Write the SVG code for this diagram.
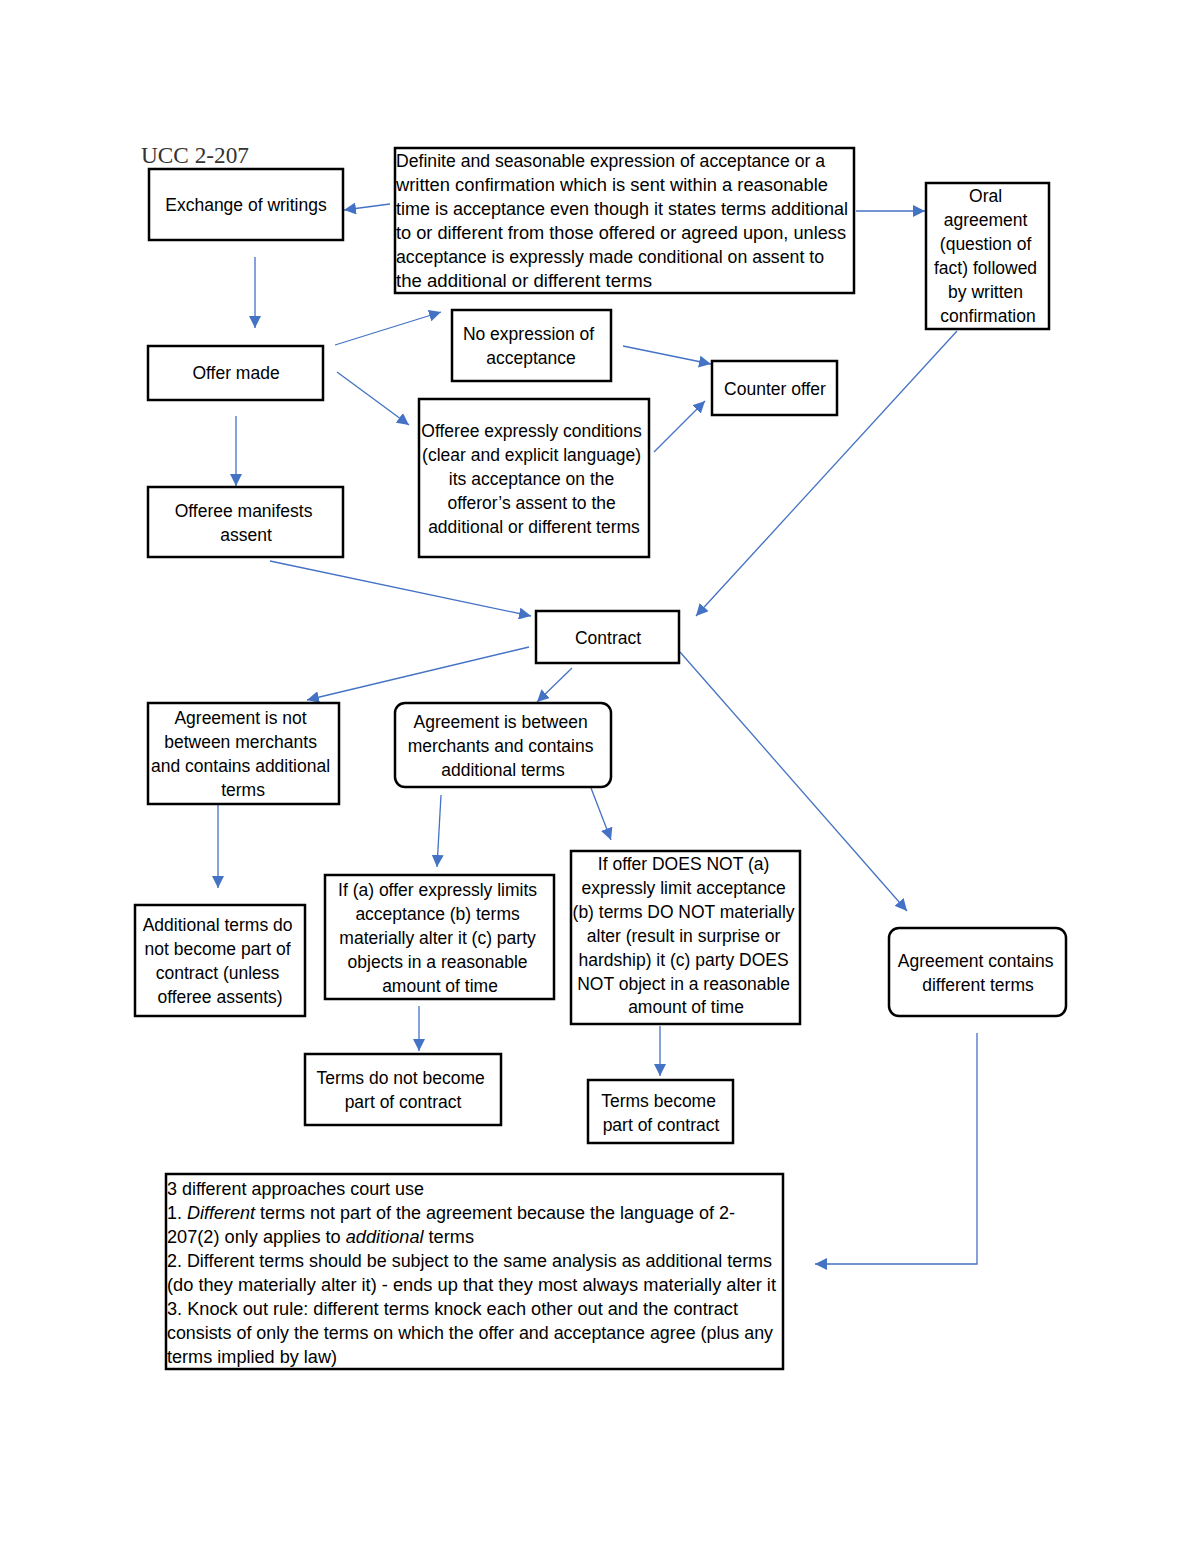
<svg xmlns="http://www.w3.org/2000/svg" width="1200" height="1553" viewBox="0 0 1200 1553">
<style>
.box{fill:#fff;stroke:#000;stroke-width:2.5}
.t{font-family:"Liberation Sans",Arial,sans-serif;font-size:17.5px;fill:#000}
.c{text-anchor:middle}
.ln{fill:none;stroke:#4472C4;stroke-width:1.3;marker-end:url(#ah)}
</style>
<defs>
<marker id="ah" markerUnits="userSpaceOnUse" markerWidth="14" markerHeight="12" refX="12" refY="6" orient="auto">
<path d="M0,0 L12,6 L0,12 Z" fill="#4472C4"/>
</marker>
</defs>
<rect width="1200" height="1553" fill="#fff"/>
<text x="141" y="163" font-family="Liberation Serif,serif" font-size="23" fill="#333" textLength="108" lengthAdjust="spacingAndGlyphs">UCC 2-207</text>

<g id="connectors">
<line class="ln" x1="390" y1="204" x2="344" y2="210"/>
<line class="ln" x1="856" y1="211" x2="925" y2="211"/>
<line class="ln" x1="255" y1="257" x2="255" y2="328"/>
<line class="ln" x1="335" y1="345" x2="441" y2="312"/>
<line class="ln" x1="337" y1="372" x2="409" y2="425"/>
<line class="ln" x1="623" y1="346" x2="711" y2="364"/>
<line class="ln" x1="654" y1="452" x2="705" y2="401"/>
<line class="ln" x1="236" y1="416" x2="236" y2="486"/>
<line class="ln" x1="270" y1="561" x2="531" y2="616"/>
<line class="ln" x1="957" y1="331" x2="696" y2="616"/>
<line class="ln" x1="529" y1="647" x2="307" y2="700"/>
<line class="ln" x1="572" y1="668" x2="537" y2="702"/>
<line class="ln" x1="680" y1="652" x2="907" y2="911"/>
<line class="ln" x1="218" y1="803" x2="218" y2="888"/>
<line class="ln" x1="441" y1="795" x2="437" y2="867"/>
<line class="ln" x1="591" y1="788" x2="611" y2="840"/>
<line class="ln" x1="419" y1="1006" x2="419" y2="1051"/>
<line class="ln" x1="660" y1="1026" x2="660" y2="1076"/>
<polyline class="ln" points="977,1033 977,1264 815,1264"/>
</g>

<g id="exchange">
<rect class="box" x="149" y="169" width="194" height="71"/>
<text class="t c" x="246" y="211">Exchange of writings</text>
</g>

<g id="definite">
<rect class="box" x="395" y="148" width="459" height="145"/>
<text class="t">
<tspan x="396" y="167" textLength="429" lengthAdjust="spacingAndGlyphs">Definite and seasonable expression of acceptance or a</tspan>
<tspan x="396" y="191" textLength="432" lengthAdjust="spacingAndGlyphs">written confirmation which is sent within a reasonable</tspan>
<tspan x="396" y="215" textLength="452" lengthAdjust="spacingAndGlyphs">time is acceptance even though it states terms additional</tspan>
<tspan x="396" y="239" textLength="450" lengthAdjust="spacingAndGlyphs">to or different from those offered or agreed upon, unless</tspan>
<tspan x="396" y="263" textLength="428" lengthAdjust="spacingAndGlyphs">acceptance is expressly made conditional on assent to</tspan>
<tspan x="396" y="287" textLength="256" lengthAdjust="spacingAndGlyphs">the additional or different terms</tspan>
</text>
</g>

<g id="oral">
<rect class="box" x="926" y="183" width="123" height="146"/>
<text class="t c">
<tspan x="988" y="202">Oral</tspan>
<tspan x="988" y="226">agreement</tspan>
<tspan x="988" y="250">(question of</tspan>
<tspan x="988" y="274">fact) followed</tspan>
<tspan x="988" y="298">by written</tspan>
<tspan x="988" y="322">confirmation</tspan>
</text>
</g>

<g id="offer">
<rect class="box" x="148" y="346" width="175" height="54"/>
<text class="t c" x="236" y="379">Offer made</text>
</g>

<g id="noexpr">
<rect class="box" x="452" y="310" width="159" height="71"/>
<text class="t c">
<tspan x="531" y="340">No expression of</tspan>
<tspan x="531" y="364">acceptance</tspan>
</text>
</g>

<g id="counter">
<rect class="box" x="712" y="361" width="125" height="54"/>
<text class="t c" x="775" y="395">Counter offer</text>
</g>

<g id="conditions">
<rect class="box" x="419" y="399" width="230" height="158"/>
<text class="t c">
<tspan x="534" y="437">Offeree expressly conditions</tspan>
<tspan x="534" y="461">(clear and explicit language)</tspan>
<tspan x="534" y="485">its acceptance on the</tspan>
<tspan x="534" y="509">offeror’s assent to the</tspan>
<tspan x="534" y="533">additional or different terms</tspan>
</text>
</g>

<g id="manifests">
<rect class="box" x="148" y="487" width="195" height="70"/>
<text class="t c">
<tspan x="246" y="517">Offeree manifests</tspan>
<tspan x="246" y="541">assent</tspan>
</text>
</g>

<g id="contract">
<rect class="box" x="536" y="611" width="143" height="52"/>
<text class="t c" x="608" y="644">Contract</text>
</g>

<g id="notmerchants">
<rect class="box" x="148" y="703" width="191" height="101"/>
<text class="t c">
<tspan x="243" y="724">Agreement is not</tspan>
<tspan x="243" y="748">between merchants</tspan>
<tspan x="243" y="772">and contains additional</tspan>
<tspan x="243" y="796">terms</tspan>
</text>
</g>

<g id="merchants">
<rect class="box" x="395" y="703" width="216" height="84" rx="10"/>
<text class="t c">
<tspan x="503" y="728">Agreement is between</tspan>
<tspan x="503" y="752">merchants and contains</tspan>
<tspan x="503" y="776">additional terms</tspan>
</text>
</g>

<g id="addnot">
<rect class="box" x="135" y="905" width="170" height="111"/>
<text class="t c">
<tspan x="220" y="931">Additional terms do</tspan>
<tspan x="220" y="955">not become part of</tspan>
<tspan x="220" y="979">contract (unless</tspan>
<tspan x="220" y="1003">offeree assents)</tspan>
</text>
</g>

<g id="limits">
<rect class="box" x="325" y="875" width="229" height="124"/>
<text class="t c">
<tspan x="440" y="896">If (a) offer expressly limits</tspan>
<tspan x="440" y="920">acceptance (b) terms</tspan>
<tspan x="440" y="944">materially alter it (c) party</tspan>
<tspan x="440" y="968">objects in a reasonable</tspan>
<tspan x="440" y="992">amount of time</tspan>
</text>
</g>

<g id="doesnot">
<rect class="box" x="571" y="851" width="229" height="173"/>
<text class="t c">
<tspan x="686" y="870">If offer DOES NOT (a)</tspan>
<tspan x="686" y="894">expressly limit acceptance</tspan>
<tspan x="686" y="918" textLength="222" lengthAdjust="spacingAndGlyphs">(b) terms DO NOT materially</tspan>
<tspan x="686" y="942">alter (result in surprise or</tspan>
<tspan x="686" y="966">hardship) it (c) party DOES</tspan>
<tspan x="686" y="990">NOT object in a reasonable</tspan>
<tspan x="686" y="1013">amount of time</tspan>
</text>
</g>

<g id="different">
<rect class="box" x="889" y="928" width="177" height="88" rx="10"/>
<text class="t c">
<tspan x="978" y="967">Agreement contains</tspan>
<tspan x="978" y="991">different terms</tspan>
</text>
</g>

<g id="termsnot">
<rect class="box" x="305" y="1054" width="196" height="71"/>
<text class="t c">
<tspan x="403" y="1084">Terms do not become</tspan>
<tspan x="403" y="1108">part of contract</tspan>
</text>
</g>

<g id="termsbecome">
<rect class="box" x="588" y="1080" width="145" height="63"/>
<text class="t c">
<tspan x="661" y="1107">Terms become</tspan>
<tspan x="661" y="1131">part of contract</tspan>
</text>
</g>

<g id="approaches">
<rect class="box" x="166" y="1174" width="617" height="195"/>
<text class="t">
<tspan x="167" y="1195" textLength="257" lengthAdjust="spacingAndGlyphs">3 different approaches court use</tspan>
<tspan x="167" y="1219" textLength="568" lengthAdjust="spacingAndGlyphs">1. <tspan font-style="italic">Different</tspan> terms not part of the agreement because the language of 2-</tspan>
<tspan x="167" y="1243" textLength="307" lengthAdjust="spacingAndGlyphs">207(2) only applies to <tspan font-style="italic">additional</tspan> terms</tspan>
<tspan x="167" y="1267" textLength="605" lengthAdjust="spacingAndGlyphs">2. Different terms should be subject to the same analysis as additional terms</tspan>
<tspan x="167" y="1291" textLength="609" lengthAdjust="spacingAndGlyphs">(do they materially alter it) - ends up that they most always materially alter it</tspan>
<tspan x="167" y="1315" textLength="571" lengthAdjust="spacingAndGlyphs">3. Knock out rule: different terms knock each other out and the contract</tspan>
<tspan x="167" y="1339" textLength="606" lengthAdjust="spacingAndGlyphs">consists of only the terms on which the offer and acceptance agree (plus any</tspan>
<tspan x="167" y="1363" textLength="170" lengthAdjust="spacingAndGlyphs">terms implied by law)</tspan>
</text>
</g>
</svg>
